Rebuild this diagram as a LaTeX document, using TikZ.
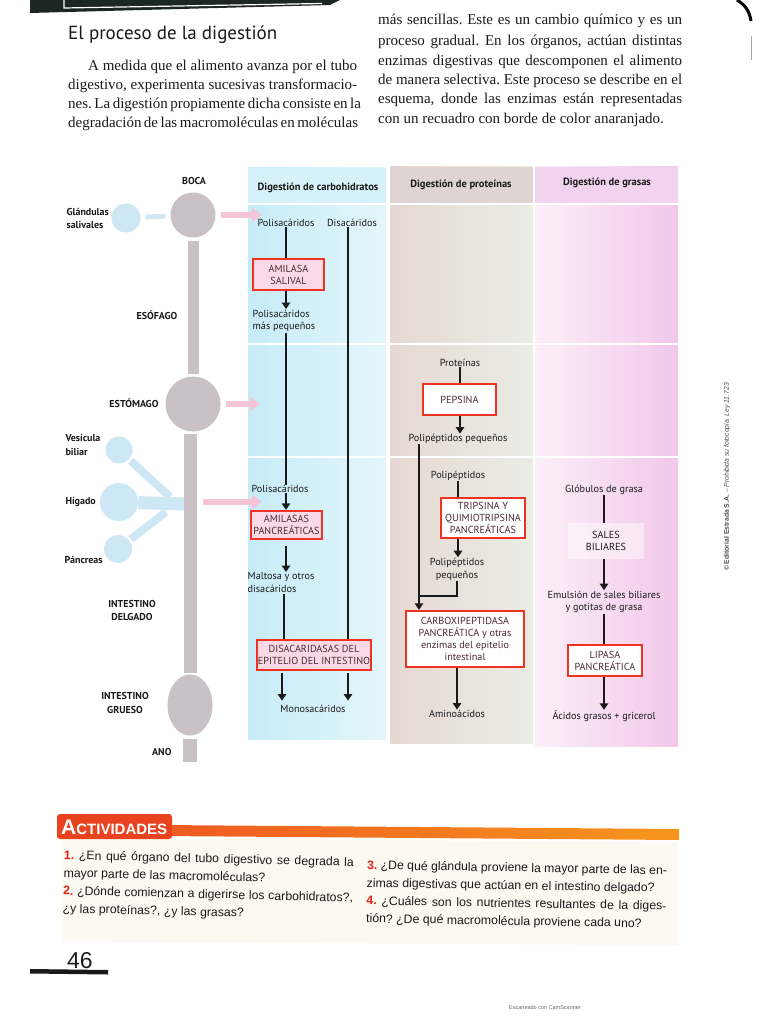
\documentclass[tikz,border=0pt]{standalone}
\usepackage{fontspec}
\setmainfont{Liberation Serif}
\newfontfamily\dg{PT Sans}
\newfontfamily\qs{Liberation Sans}
\usetikzlibrary{arrows.meta,shapes.geometric}
\definecolor{organ}{HTML}{C9C1C5}
\definecolor{gland}{HTML}{CDE8F4}
\definecolor{pinkarr}{HTML}{F5C4D6}
\definecolor{carbA}{HTML}{C6ECF8}
\definecolor{carbB}{HTML}{E4F6FA}
\definecolor{carbH}{HTML}{D6F1F9}
\definecolor{protA}{HTML}{E6D8D2}
\definecolor{protB}{HTML}{EAEDE4}
\definecolor{protH}{HTML}{DED4D2}
\definecolor{fatA}{HTML}{FBEFF8}
\definecolor{fatB}{HTML}{F2C8EA}
\definecolor{fatH}{HTML}{F2D3EE}
\definecolor{enzred}{HTML}{EE3322}
\definecolor{enzfill}{HTML}{F8D9E6}
\definecolor{enztxt}{HTML}{4A2A34}
\definecolor{txt}{HTML}{1A1A1A}
\definecolor{bandL}{HTML}{EF5A22}
\definecolor{bandR}{HTML}{F7961E}
\definecolor{tabred}{HTML}{E8431E}
\definecolor{cream}{HTML}{FCFAF0}
\definecolor{qred}{HTML}{E32213}
\definecolor{darkbar}{HTML}{1C2622}
\newcommand{\myjl}[2]{\makebox[#1][s]{#2}}
\newcommand{\qn}[1]{\textcolor{qred}{\textbf{#1}}}
\frenchspacing
\begin{document}
\begin{tikzpicture}[x=1pt,y=-1pt,
  body/.style={font=\fontsize{15}{19}\selectfont, text=txt, inner sep=0pt},
  lbl/.style={font=\dg\fontsize{10.2}{12.8}\selectfont, text=txt, inner sep=0.5pt, align=center},
  hdr/.style={font=\dg\bfseries\fontsize{10.5}{12}\selectfont, text=txt},
  org/.style={font=\dg\bfseries\fontsize{10}{13.5}\selectfont, text=txt, align=center},
  orgl/.style={org, align=left},
  enz/.style={draw=enzred, line width=2.3pt, fill=white, font=\dg\fontsize{10.2}{12}\selectfont, text=enztxt, align=center, inner sep=1pt},
  enzc/.style={enz, fill=enzfill},
  ln/.style={line width=1.3pt, draw=txt},
  arr/.style={ln, -{Triangle[width=8.5pt,length=6.5pt]}},
  parr/.style={draw=pinkarr, line width=5.5pt, -{Triangle[width=14pt,length=10pt]}},
  circ/.style={circle, inner sep=0pt},
  qt/.style={font=\qs\fontsize{12.3}{17.8}\selectfont, text=txt, align=left, inner sep=0pt},
]
\useasboundingbox (0,0) rectangle (768,1024);
\fill[white] (0,0) rectangle (768,1024);

% page top decorations
\fill[darkbar] (30,0) -- (340,0) -- (330,5) -- (30,13) -- cycle;
\draw[white, line width=1.2pt] (64,0) -- (64,8) -- (322,3.5);
\draw[black, line width=3pt] (737,0) to[bend left=25] (751,21);
\draw[black!35, line width=0.8pt] (751,36) -- (751,60);

% title and body text
\node[anchor=base west, font=\dg\fontsize{19}{20}\selectfont, text=txt, inner sep=0pt] (title) at (68,40) {El proceso de la digestión};
\node[body, anchor=base west] (t1) at (88,70.5) {\myjl{269pt}{A medida que el alimento avanza por el tubo}};
\node[body, anchor=base west] (t2) at (68,89.5) {\myjl{289pt}{digestivo, experimenta sucesivas transformacio-}};
\node[body, anchor=base west] (t3) at (68,108.5) {\myjl{289pt}{nes. La digestión propiamente dicha consiste en la}};
\node[body, anchor=base west] (t4) at (68,127.5) {\myjl{289pt}{degradación de las macromoléculas en moléculas}};
\node[body, anchor=base west] (r1) at (378,24.5) {\myjl{304pt}{más sencillas. Este es un cambio químico y es un}};
\node[body, anchor=base west] (r2) at (378,45.5) {\myjl{304pt}{proceso gradual. En los órganos, actúan distintas}};
\node[body, anchor=base west] (r3) at (378,65.5) {\myjl{304pt}{enzimas digestivas que descomponen el alimento}};
\node[body, anchor=base west] (r4) at (378,84.5) {\myjl{304pt}{de manera selectiva. Este proceso se describe en el}};
\node[body, anchor=base west] (r5) at (378,103.5) {\myjl{304pt}{esquema, donde las enzimas están representadas}};
\node[body, anchor=base west] (r6) at (378,123.5) {con un recuadro con borde de color anaranjado.};

% columns
\shade[left color=carbA, right color=carbB] (248,168) rectangle (386,739);
\shade[left color=protA, right color=protB] (390,167) rectangle (533,743);
\shade[left color=fatA, right color=fatB] (535,167) rectangle (678,746);
\fill[carbH] (248,168) rectangle (386,204);
\fill[protH] (390,167) rectangle (533,204);
\fill[fatH] (535,167) rectangle (678,204);
\draw[white, line width=2pt] (248,204) -- (678,204);
\draw[white, line width=2pt] (248,344) -- (678,344);
\draw[white, line width=2pt] (248,457) -- (678,457);

\node[hdr] (hc) at (318,188) {Digestión de carbohidratos};
\node[hdr] (hp) at (461,185) {Digestión de proteínas};
\node[hdr] (hf) at (607,183) {Digestión de grasas};

% anatomy
\node[circ, fill=organ, minimum size=45pt] (boca) at (193,215) {};
\node[org] (lboca) at (194,181) {BOCA};
\node[circ, fill=gland, minimum size=29pt] (gsal) at (126,218) {};
\node[orgl, anchor=west] (lgsal) at (63,218.5) {Glándulas\\salivales};
\node[org] (lesof) at (157,315) {ESÓFAGO};
\node[circ, fill=organ, minimum size=55pt] (est) at (193,404) {};
\node[org] (lest) at (134,403) {ESTÓMAGO};
\node[ellipse, fill=organ, minimum width=45pt, minimum height=61pt, inner sep=0pt] (ig) at (190,705) {};
\coordinate (ano) at (190,762);
\node[org, anchor=east] (lano) at (175,752) {ANO};
\node[org] (lid) at (132,610.5) {INTESTINO\\DELGADO};
\node[org] (lig) at (125,703) {INTESTINO\\GRUESO};
\node[circ, fill=gland, minimum size=27pt] (ves) at (119,450) {};
\node[orgl, anchor=west] (lves) at (62,445) {Vesícula\\biliar};
\node[circ, fill=gland, minimum size=38pt] (hig) at (119,502) {};
\node[orgl, anchor=west] (lhig) at (62,502) {Hígado};
\node[circ, fill=gland, minimum size=28pt] (pan) at (118,549) {};
\node[orgl, anchor=west] (lpan) at (61,560) {Páncreas};

\draw[gland, line width=5pt, shorten <=5pt, shorten >=5pt] (gsal) -- (boca);
\draw[organ, line width=11pt, shorten <=3pt, shorten >=2pt] (boca) -- (est);
\draw[organ, line width=13pt, shorten <=2pt, shorten >=1pt] (ig.north |- est.south) -- (ig.north);
\draw[organ, line width=14pt, shorten <=3pt] (ig.south) -- (ano);
\coordinate (jv) at (170,497);
\coordinate (jp) at (166,512);
\coordinate (jl) at (184,504);
\draw[gland, line width=8pt, shorten <=2pt] (ves) -- (jv);
\draw[gland, line width=8pt, shorten <=2pt] (pan) -- (jp);
\draw[gland, line width=13pt] (hig) -- (jl);

\coordinate (pa1) at (262,215);
\coordinate (pa2) at (260,404);
\coordinate (pa3s) at (190,502);
\coordinate (pa3) at (262,502);
\draw[parr, shorten <=5pt] (boca) -- (pa1);
\draw[parr, shorten <=5pt] (est) -- (pa2);
\draw[parr, shorten <=13pt] (pa3s) -- (pa3);

% carbohydrates
\node[lbl] (pol1) at (286,223) {Polisacáridos};
\node[lbl] (dis1) at (352,223) {Disacáridos};
\node[enzc, minimum width=71pt, minimum height=31pt] (amil) at (288.5,274.5) {AMILASA\\SALIVAL};
\node[lbl, align=left, anchor=north west] (pmp) at (252,309) {Polisacáridos\\más pequeños};
\node[lbl] (pol2) at (280,489) {Polisacáridos};
\node[enzc, minimum width=71pt, minimum height=28pt] (amp) at (286.5,525) {AMILASAS\\PANCREÁTICAS};
\node[lbl, align=left, anchor=north west] (mal) at (247,572) {Maltosa y otros\\disacáridos};
\node[enzc, minimum width=110pt, minimum height=30pt] (dasa) at (314,655) {DISACARIDASAS DEL\\EPITELIO DEL INTESTINO};
\node[lbl] (mono) at (313,709) {Monosacáridos};

\draw[ln] (pol1.south) -- (pol1.south |- amil.north);
\draw[arr] (pol1.south |- amil.south) -- (pol1.south |- pmp.north);
\draw[ln] (pol1.south |- pmp.south) -- (pol1.south |- pol2.north);
\draw[arr] (pol1.south |- pol2.south) -- (pol1.south |- amp.north);
\draw[arr, shorten <=6pt] (pol1.south |- amp.south) -- (pol1.south |- mal.north);
\draw[ln, shorten <=1pt] ([xshift=-2pt]pol1.south |- mal.south) -- ([xshift=-2pt]pol1.south |- dasa.north);
\draw[ln] ([xshift=-4pt]dis1.south) -- ([xshift=-4pt]dis1.south |- dasa.north);
\draw[arr, shorten <=2pt] ([xshift=-4pt]dis1.south |- dasa.south) -- ([xshift=-4pt,yshift=4pt]dis1.south |- mono.north);
\draw[arr, shorten <=2pt] ([xshift=-4pt]pol1.south |- dasa.south) -- ([xshift=-4pt,yshift=4pt]pol1.south |- mono.north);

% proteins
\node[lbl] (prot) at (460,363) {Proteínas};
\node[enz, minimum width=73pt, minimum height=31pt] (pep) at (459.5,399.5) {PEPSINA};
\node[lbl] (pp1) at (458,439) {Polipéptidos pequeños};
\node[lbl] (pp2) at (458,476) {Polipéptidos};
\node[enz, minimum width=84pt, minimum height=40pt] (tri) at (483,518) {TRIPSINA Y\\QUIMIOTRIPSINA\\PANCREÁTICAS};
\node[lbl] (pp3) at (457,569) {Polipéptidos\\pequeños};
\node[enz, minimum width=118pt, minimum height=56pt] (cbx) at (465,639) {CARBOXIPEPTIDASA\\PANCREÁTICA y otras\\enzimas del epitelio\\intestinal};
\node[lbl] (amino) at (457,714) {Aminoácidos};
\coordinate (jn2) at (419,596);

\draw[ln] (prot.south) -- (prot.south |- pep.north);
\draw[arr] (prot.south |- pep.south) -- (prot.south |- pp1.north);
\draw[arr] (jn2 |- pp1.south) -- (jn2 |- cbx.north);
\draw[ln] (pp2.south) -- (pp2.south |- tri.north);
\draw[arr] (pp2.south |- tri.south) -- (pp2.south |- pp3.north);
\draw[ln] (pp3.south) |- (jn2);
\draw[arr] (amino.north |- cbx.south) -- (amino.north);

% fats
\node[lbl] (glob) at (604,490) {Glóbulos de grasa};
\node[lbl, fill=white, fill opacity=0.45, text opacity=1, minimum width=76pt, minimum height=36pt] (sb) at (606,541) {SALES\\BILIARES};
\node[lbl] (emu) at (604,602) {Emulsión de sales biliares\\y gotitas de grasa};
\node[enz, minimum width=74pt, minimum height=31pt] (lip) at (605,660.5) {LIPASA\\PANCREÁTICA};
\node[lbl] (acid) at (604,716) {Ácidos grasos + gricerol};

\draw[ln] (glob.south) -- (glob.south |- sb.north);
\draw[arr] (glob.south |- sb.south) -- (glob.south |- emu.north);
\draw[ln] (glob.south |- emu.south) -- (glob.south |- lip.north);
\draw[arr] (glob.south |- lip.south) -- (glob.south |- acid.north);

% side text
\node[rotate=90, font=\qs\fontsize{6.8}{7}\selectfont, text=black!70] (side) at (727,477) {\textbf{© Editorial Estrada S.A.} – \textit{Prohibida su fotocopia. Ley 11.723}};

% activities
\fill[cream] (62,838) -- (678,842) -- (678,945) -- (62,942) -- cycle;
\shade[left color=bandL, right color=bandR] (160,825) -- (679,829) -- (679,840) -- (160,836) -- cycle;
\fill[tabred, rounded corners=3pt] (57,814) rectangle (172,839);
\node[font=\qs\bfseries, text=white, anchor=base west, inner sep=0pt] (act) at (61,834) {{\fontsize{21}{21}\selectfont A}{\fontsize{15}{15}\selectfont CTIVIDADES}};

\node[qt, anchor=north west, rotate=-1.4] (qa) at (64,850) {\myjl{290pt}{\qn{1.} ¿En qué órgano del tubo digestivo se degrada la}\\
mayor parte de las macromoléculas?\\
\myjl{290pt}{\qn{2.} ¿Dónde comienzan a digerirse los carbohidratos?,}\\
¿y las proteínas?, ¿y las grasas?};
\node[qt, anchor=north west, rotate=-1.0] (qb) at (367,860) {\myjl{300pt}{\qn{3.} ¿De qué glándula proviene la mayor parte de las en-}\\
zimas digestivas que actúan en el intestino delgado?\\
\myjl{300pt}{\qn{4.} ¿Cuáles son los nutrientes resultantes de la diges-}\\
tión? ¿De qué macromolécula proviene cada uno?};

% page number
\node[font=\qs\fontsize{23}{23}\selectfont, text=txt, anchor=base west, inner sep=0pt] (pg) at (67,968) {46};
\fill[txt] (30,969) -- (108,970) -- (108,974.5) -- (30,973.5) -- cycle;

\node[font=\qs\fontsize{5.5}{6}\selectfont, text=black!60] (cs) at (545,1008) {Escaneado con CamScanner};
\end{tikzpicture}
\end{document}
